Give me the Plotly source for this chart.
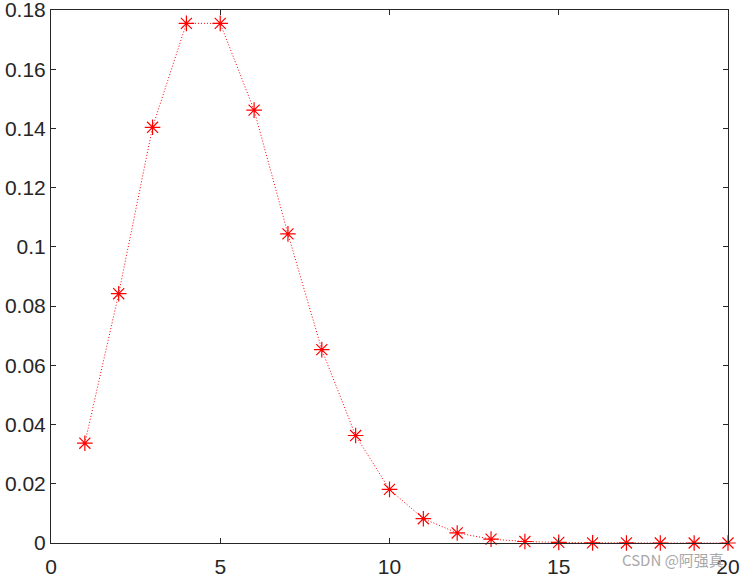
import plotly.graph_objects as go

# k values and probabilities
k = list(range(1, 21))
prob = [0.0337, 0.0842, 0.1404, 0.1755, 0.1755, 0.1462, 0.1044, 0.0653,
        0.0363, 0.0181, 0.0082, 0.0034, 0.0013, 0.0005, 0.0002, 0.00005,
        0.00001, 0.0, 0.0, 0.0]

x_ticks = [0, 5, 10, 15, 20]
y_ticks = [0, 0.02, 0.04, 0.06, 0.08, 0.1, 0.12, 0.14, 0.16, 0.18]
y_labels = ["0", "0.02", "0.04", "0.06", "0.08", "0.1", "0.12", "0.14", "0.16", "0.18"]

fig = go.Figure()

fig.add_trace(go.Scatter(
    x=k,
    y=prob,
    mode="lines+markers",
    line=dict(color="red", width=1, dash="1px,2px"),
    marker=dict(symbol="asterisk-open", size=13, color="red",
                line=dict(color="red", width=1.2)),
    showlegend=False,
    cliponaxis=False
))

axis_style = dict(
    showline=True, linecolor="#262626", linewidth=1,
    mirror="ticks", ticks="inside", ticklen=5, tickcolor="#262626",
    showgrid=False, zeroline=False, automargin=False,
    ticklabeloverflow="allow",
    tickfont=dict(family="Arial", size=21, color="#262626"),
)

fig.update_xaxes(range=[0, 20], tickvals=x_ticks, ticklabelstandoff=5, **axis_style)
fig.update_yaxes(range=[0, 0.18001], tickvals=y_ticks, ticktext=y_labels, **axis_style)

fig.add_annotation(
    text="CSDN @阿强真", xref="paper", yref="paper",
    x=0.997, y=-0.008, xanchor="right", yanchor="top", showarrow=False,
    font=dict(family="Noto Sans CJK SC", size=15, color="#a8a8a8")
)

fig.update_layout(
    width=742, height=577,
    margin=dict(l=51, r=14, t=10, b=34),
    paper_bgcolor="white",
    plot_bgcolor="white",
)

config = dict({'displaylogo': False, 'displayModeBar': False})

# drop the default page margin so the figure sits at the window corner
fig.write_html("out.html", config=config,
               post_script="document.body.style.margin='0';")
